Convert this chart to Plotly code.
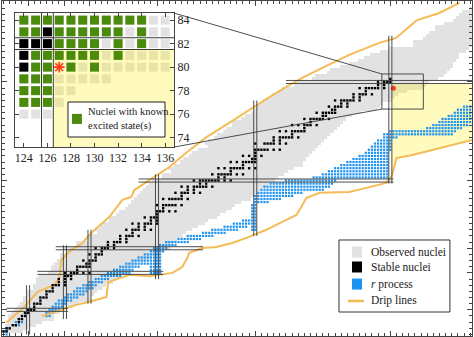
import plotly.graph_objects as go

FONT = "Liberation Serif"
GRAY = "#e2e2e2"
BLUE = "#1f93f0"
GREEN = "#4b8b0b"
ORANGE = "#f5bb55"
RED = "#ff3b1d"
LINE = "#3a3a3a"

# ---------------- observed nuclei: lightest / heaviest known isotope (neutron number) per element
obs_Z = list(range(1, 108))
obs_Nmin = [0, 1, 1, 2, 2, 2, 3, 4, 5, 6, 7, 7, 8, 8, 10, 10, 11, 11, 12, 15,
            16, 16, 17, 18, 19, 19, 21, 20, 24, 24, 28, 28, 31, 30, 32, 33, 35, 35, 37, 38,
            40, 41, 42, 43, 44, 45, 46, 47, 48, 49, 52, 52, 55, 54, 56, 58, 59, 61, 62, 64,
            67, 66, 67, 69, 70, 72, 73, 75, 75, 78, 79, 81, 82, 83, 84, 85, 87, 88, 90, 91,
            95, 96, 101, 102, 106, 107, 110, 113, 116, 118, 120, 123, 126, 134, 134, 137, 138, 139, 141, 141,
            144, 147, 148, 149, 150, 152, 153]
obs_Nmax = [6, 8, 10, 12, 16, 16, 18, 18, 22, 24, 28, 28, 29, 30, 32, 33, 35, 36, 38, 40,
            41, 42, 43, 46, 48, 50, 51, 54, 53, 55, 56, 58, 59, 61, 63, 65, 66, 69, 70, 72,
            74, 75, 77, 80, 81, 82, 83, 85, 86, 88, 89, 91, 92, 94, 97, 97, 98, 99, 100, 101,
            102, 103, 104, 105, 106, 107, 108, 109, 110, 111, 113, 116, 121, 122, 123, 126, 127, 128, 131, 136,
            137, 138, 141, 143, 144, 145, 146, 146, 147, 148, 148, 150, 151, 153, 154, 155, 156, 158, 158, 160,
            159, 160, 163, 164, 165, 165, 166]

# ---------------- stable nuclei: neutron numbers for Z = 1 .. 83
stable_N = [
    [0, 1], [1, 2], [3, 4], [5], [5, 6], [6, 7], [7, 8], [8, 9, 10], [10], [10, 11, 12],
    [12], [12, 13, 14], [14], [14, 15, 16], [16], [16, 17, 18, 20], [18, 20], [18, 20, 22], [20, 21, 22], [20, 22, 23, 24, 26, 28],
    [24], [24, 25, 26, 27, 28], [27, 28], [26, 28, 29, 30], [30], [28, 30, 31, 32], [32], [30, 32, 33, 34, 36], [34, 36], [34, 36, 37, 38, 40],
    [38, 40], [38, 40, 41, 42, 44], [42], [40, 42, 43, 44, 46, 48], [44, 46], [42, 44, 46, 47, 48, 50], [48, 50], [46, 48, 49, 50], [50], [50, 51, 52, 54, 56],
    [52], [50, 52, 53, 54, 55, 56, 58], [], [52, 54, 55, 56, 57, 58, 60], [58], [56, 58, 59, 60, 62, 64], [60, 62], [58, 60, 62, 63, 64, 65, 66, 68], [64, 66], [62, 64, 65, 66, 67, 68, 69, 70, 72, 74],
    [70, 72], [68, 70, 71, 72, 73, 74, 76, 78], [74], [70, 72, 74, 75, 76, 77, 78, 80, 82], [78], [74, 76, 78, 79, 80, 81, 82], [81, 82], [78, 80, 82, 84], [82], [82, 83, 84, 85, 86, 88, 90],
    [], [82, 85, 86, 87, 88, 90, 92], [88, 90], [88, 90, 91, 92, 93, 94, 96], [94], [90, 92, 94, 95, 96, 97, 98], [98], [94, 96, 98, 99, 100, 102], [100], [98, 100, 101, 102, 103, 104, 106],
    [104, 105], [102, 104, 105, 106, 107, 108], [107, 108], [106, 108, 109, 110, 112], [110, 112], [108, 110, 111, 112, 113, 114, 116], [114, 116], [114, 116, 117, 118, 120], [118], [116, 118, 119, 120, 121, 122, 124],
    [122, 124], [122, 124, 125, 126], [126],
]

# ---------------- r-process path: rows of (Z, first N, last N)
rp_Z = [0, 1, 2, 3, 4, 5, 6, 7, 8, 9, 10, 11, 12, 13, 14, 15, 16, 17, 18, 19,
        20, 20, 21, 21, 22, 22, 23, 24, 25, 26, 27, 28, 29, 30, 31, 32, 33, 34, 34, 35,
        35, 36, 37, 38, 39, 40, 41, 42, 43, 44, 45, 46, 47, 48, 49, 50, 51, 52, 53,
        54, 55, 56, 57, 58, 59, 60, 61, 62, 63, 64, 65, 66, 67, 68, 69, 70, 71, 72, 73, 74]
rp_Nlo = [1, 0, 1, 4, 4, 5, 14, 14, 15, 16, 17, 18, 20, 21, 23, 24, 26, 28, 30, 32,
          34, 48, 36, 48, 38, 48, 40, 42, 44, 46, 48, 49, 51, 53, 57, 60, 65, 68, 81, 72,
          81, 75, 78, 81, 81, 81, 81, 81, 82, 82, 82, 83, 84, 85, 87, 92, 101, 104, 106,
          108, 110, 112, 114, 116, 118, 119, 120, 121, 122, 124, 124, 126, 138, 140, 142, 143, 145, 147, 148, 150]
rp_Nhi = [1, 1, 2, 5, 6, 6, 15, 16, 18, 19, 20, 22, 24, 26, 27, 29, 30, 32, 34, 38,
          41, 51, 42, 51, 44, 51, 51, 51, 51, 51, 52, 53, 56, 60, 64, 68, 72, 76, 82, 79,
          82, 82, 82, 82, 82, 82, 82, 82, 86, 90, 94, 97, 104, 106, 107, 108, 125, 125, 125,
          125, 125, 125, 125, 125, 125, 126, 126, 126, 126, 128, 146, 147, 149, 151, 152, 152, 152, 152, 152, 152]

# ---------------- drip lines
pdrip_N = [0.9, 6.8, 11.0, 16.5, 18.2, 18.8, 22.1, 25.7, 28.6, 34.5, 38.7, 41.6, 42.6, 47.5, 54.0,
           59.5, 66.0, 73.5, 80.0, 86.6, 92.1, 97.3, 103.8, 112.6, 122.4, 127.9, 134.5, 142.0, 148.5]
pdrip_Z = [3.8, 9.0, 13.8, 16.1, 18.4, 24.2, 27.5, 29.7, 33.0, 38.2, 43.7, 44.7, 46.9, 50.2, 54.4,
           59.0, 64.0, 68.7, 73.0, 77.1, 80.4, 83.3, 86.6, 90.8, 94.7, 96.3, 102.0, 104.4, 107.7]
ndrip_N = [12.6, 18.2, 23.7, 28.0, 33.5, 34.1, 41.0, 47.5, 55.0, 58.2, 59.9, 60.5, 64.8, 69.3, 74.5,
           80.0, 85.6, 90.8, 95.4, 97.0, 98.6, 102.9, 112.6, 118.2, 124.7, 126.5, 128.0, 133.2, 142.0, 152.7]
ndrip_Z = [6.0, 7.7, 9.6, 10.6, 12.2, 17.0, 19.4, 18.9, 20.0, 21.9, 24.9, 26.5, 28.1, 28.4, 29.7,
           31.7, 34.0, 36.6, 38.8, 41.4, 44.3, 46.0, 46.3, 47.6, 49.2, 51.5, 57.3, 58.3, 60.6, 63.2]

# ---------------- magic numbers and the extent of their marker lines
magic_N = [8, 20, 28, 50, 82, 126]
magicN_Zlo = [0, 5, 10, 18, 32, 49]
magicN_Zhi = [16, 29, 34, 52, 76, 97]
magic_Z = [8, 20, 28, 50, 82]
magicZ_Nlo = [1, 11, 17, 44, 92]
magicZ_Nhi = [21, 52, 65, 127, 153]

# ---------------- Pb region: nuclei with known excited states
exc_Z = [84] * 11 + [83] * 9 + [82] * 6 + [81] * 7 + [80] * 4 + [79] * 3 + [78] * 3 + [77] * 3
exc_N = (list(range(124, 135))
         + [124, 125, 127, 128, 129, 130, 131, 132, 134]
         + [127, 128, 129, 130, 132, 134]
         + [125, 126, 127, 128, 129, 130, 132]
         + [125, 126, 128, 130]
         + [124, 125, 126] * 3)
focus_N = [127]
focus_Z = [80]

# ---------------- axis ranges
XR = [-0.5, 152.6]
YR = [-0.5, 108.3]
IX = [123.25, 136.75]
IY = [73.2, 84.6]
IDX = [0.0277, 0.366]
IDY = [0.564, 0.964]
YEL = "rgba(255,238,0,0.25)"

fig = go.Figure()

# observed nuclei as one horizontal bar per element
fig.add_trace(go.Bar(
    orientation="h", y=obs_Z,
    x=[hi - lo + 1 for lo, hi in zip(obs_Nmin, obs_Nmax)],
    base=[lo - 0.5 for lo in obs_Nmin], width=1.02,
    marker=dict(color=GRAY, line=dict(width=0)),
    showlegend=False, hoverinfo="skip"))

# highlighted region beyond N = 126 below Z = 82, bounded by the neutron drip line
edge = [(n, z) for n, z in zip(ndrip_N, ndrip_Z) if n >= 126.5][::-1]
fig.add_trace(go.Scatter(
    x=[126.5, 153] + [p[0] for p in edge] + [126.5],
    y=[81.5, 81.5] + [p[1] for p in edge] + [81.5],
    fill="toself", fillcolor=YEL, mode="none",
    showlegend=False, hoverinfo="skip"))

rp_x, rp_y = [], []
for z, lo, hi in zip(rp_Z, rp_Nlo, rp_Nhi):
    for n in range(lo, hi + 1):
        rp_x.append(n)
        rp_y.append(z)
fig.add_trace(go.Scatter(x=rp_x, y=rp_y, mode="markers",
                         marker=dict(symbol="square", size=2.2, color=BLUE, line=dict(width=0)),
                         showlegend=False, hoverinfo="skip"))

for xs, ys in ((pdrip_N, pdrip_Z), (ndrip_N, ndrip_Z)):
    fig.add_trace(go.Scatter(x=xs, y=ys, mode="lines",
                             line=dict(color=ORANGE, width=2),
                             showlegend=False, hoverinfo="skip"))

st_x, st_y = [], []
for z, ns in enumerate(stable_N, start=1):
    for n in ns:
        st_x.append(n)
        st_y.append(z)
fig.add_trace(go.Scatter(x=st_x, y=st_y, mode="markers",
                         marker=dict(symbol="square", size=2.4, color="black", line=dict(width=0)),
                         showlegend=False, hoverinfo="skip"))

fig.add_trace(go.Scatter(x=focus_N, y=focus_Z, mode="markers",
                         marker=dict(symbol="circle", size=5, color=RED, line=dict(width=0)),
                         showlegend=False, hoverinfo="skip"))

# ---------------- inset: Pb region
in_x, in_y = [], []
for z, lo, hi in zip(obs_Z, obs_Nmin, obs_Nmax):
    if IY[0] <= z <= IY[1]:
        for n in range(max(lo, 124), min(hi, 136) + 1):
            in_x.append(n)
            in_y.append(z)
fig.add_trace(go.Scatter(x=in_x, y=in_y, mode="markers", xaxis="x2", yaxis="y2",
                         marker=dict(symbol="square", size=9, color=GRAY, line=dict(width=0)),
                         showlegend=False, hoverinfo="skip"))
fig.add_trace(go.Scatter(x=[126.5, 140, 140, 126.5, 126.5], y=[81.5, 81.5, 70, 70, 81.5],
                         xaxis="x2", yaxis="y2", fill="toself", fillcolor=YEL, mode="none",
                         showlegend=False, hoverinfo="skip"))
fig.add_trace(go.Scatter(x=exc_N, y=exc_Z, mode="markers", xaxis="x2", yaxis="y2",
                         marker=dict(symbol="square", size=9, color=GREEN, line=dict(width=0)),
                         showlegend=False, hoverinfo="skip"))
fig.add_trace(go.Scatter(x=[n for n, z in zip(st_x, st_y) if n >= 124 and z >= 74],
                         y=[z for n, z in zip(st_x, st_y) if n >= 124 and z >= 74],
                         mode="markers", xaxis="x2", yaxis="y2",
                         marker=dict(symbol="square", size=9, color="black", line=dict(width=0)),
                         showlegend=False, hoverinfo="skip"))
fig.add_trace(go.Scatter(x=focus_N, y=focus_Z, mode="markers", xaxis="x2", yaxis="y2",
                         marker=dict(symbol="asterisk-open", size=9, color=RED,
                                     line=dict(width=1.6, color=RED)),
                         showlegend=False, hoverinfo="skip"))

shapes = []
# magic number bands in the main chart
for n, lo, hi in zip(magic_N, magicN_Zlo, magicN_Zhi):
    for d in (-0.5, 0.5):
        shapes.append(dict(type="line", xref="x", yref="y", x0=n + d, x1=n + d, y0=lo, y1=hi,
                           line=dict(color=LINE, width=0.9), layer="above"))
for z, lo, hi in zip(magic_Z, magicZ_Nlo, magicZ_Nhi):
    for d in (-0.5, 0.5):
        shapes.append(dict(type="line", xref="x", yref="y", x0=lo, x1=hi, y0=z + d, y1=z + d,
                           line=dict(color=LINE, width=0.9), layer="above"))
# magic number bands in the inset
for v in (125.5, 126.5):
    shapes.append(dict(type="line", xref="x2", yref="y2", x0=v, x1=v, y0=IY[0], y1=IY[1],
                       line=dict(color=LINE, width=1), layer="above"))
for v in (81.5, 82.5):
    shapes.append(dict(type="line", xref="x2", yref="y2", x0=IX[0], x1=IX[1], y0=v, y1=v,
                       line=dict(color=LINE, width=1), layer="above"))

# zoom box and its connectors to the inset
shapes.append(dict(type="rect", xref="x", yref="y", x0=IX[0], x1=IX[1], y0=IY[0], y1=IY[1],
                   line=dict(color=LINE, width=0.9), layer="above"))


def mx(p):
    return XR[0] + p * (XR[1] - XR[0])


def my(p):
    return YR[0] + p * (YR[1] - YR[0])


shapes.append(dict(type="line", xref="x", yref="y", x0=mx(IDX[1]), y0=my(IDY[1]),
                   x1=IX[0], y1=IY[1], line=dict(color=LINE, width=0.9), layer="above"))
shapes.append(dict(type="line", xref="x", yref="y", x0=mx(IDX[1]), y0=my(IDY[0]),
                   x1=IX[0], y1=IY[0], line=dict(color=LINE, width=0.9), layer="above"))

annotations = []

# inset key
shapes.append(dict(type="rect", xref="paper", yref="paper", x0=0.1404, x1=0.3468, y0=0.594, y1=0.6985,
                   fillcolor="white", line=dict(color="#222", width=1), layer="above"))
shapes.append(dict(type="rect", xref="paper", yref="paper", x0=0.149, x1=0.170, y0=0.633, y1=0.663,
                   fillcolor=GREEN, line=dict(width=0), layer="above"))
annotations.append(dict(xref="paper", yref="paper", x=0.179, y=0.647, xanchor="left", yanchor="middle",
                        text="Nuclei with known<br>excited state(s)", showarrow=False, align="left",
                        font=dict(family=FONT, size=10.5, color="#1a1a1a")))

# main key
shapes.append(dict(type="rect", xref="paper", yref="paper", x0=0.717, x1=0.953, y0=0.0716, y1=0.2866,
                   fillcolor="white", line=dict(color="#333", width=1), layer="above"))
key = [("Observed nuclei", GRAY, 0.2507), ("Stable nuclei", "black", 0.206),
       ("<i>r</i> process", BLUE, 0.155), ("Drip lines", None, 0.1045)]
for label, col, yy in key:
    if col is None:
        shapes.append(dict(type="line", xref="paper", yref="paper", x0=0.736, x1=0.770, y0=yy, y1=yy,
                           line=dict(color=ORANGE, width=2.5), layer="above"))
    else:
        shapes.append(dict(type="rect", xref="paper", yref="paper", x0=0.7447, x1=0.766,
                           y0=yy - 0.0164, y1=yy + 0.0164, fillcolor=col, line=dict(width=0), layer="above"))
    annotations.append(dict(xref="paper", yref="paper", x=0.781, y=yy, xanchor="left", yanchor="middle",
                            text=label, showarrow=False, font=dict(family=FONT, size=11.5, color="#1a1a1a")))

axis_common = dict(showgrid=False, zeroline=False, showline=True, linecolor="#444", linewidth=1,
                   ticks="inside", mirror="allticks", tickcolor="#444")

fig.update_layout(
    width=474, height=337,
    margin=dict(l=2, r=2, t=1, b=1),
    paper_bgcolor="white", plot_bgcolor="white",
    showlegend=False, bargap=0,
    xaxis=dict(range=XR, domain=[0, 1], showticklabels=False, tickmode="array", tickvals=magic_N,
               ticklen=5, minor=dict(tickmode="linear", tick0=0, dtick=2, ticklen=3, ticks="inside",
                                     tickcolor="#444"), **axis_common),
    yaxis=dict(range=YR, domain=[0, 1], showticklabels=False, tickmode="array", tickvals=magic_Z,
               ticklen=5, minor=dict(tickmode="linear", tick0=0, dtick=2, ticklen=3, ticks="inside",
                                     tickcolor="#444"), **axis_common),
    xaxis2=dict(range=IX, domain=IDX, anchor="y2", tickmode="array", tickvals=list(range(124, 137, 2)),
                ticklen=4, tickfont=dict(family=FONT, size=12, color="#222"), **axis_common),
    yaxis2=dict(range=IY, domain=IDY, anchor="x2", side="right", tickmode="array",
                tickvals=list(range(74, 85, 2)), ticklen=4,
                tickfont=dict(family=FONT, size=12, color="#222"), **axis_common),
    shapes=shapes, annotations=annotations,
)

fig.write_html("out.html")
